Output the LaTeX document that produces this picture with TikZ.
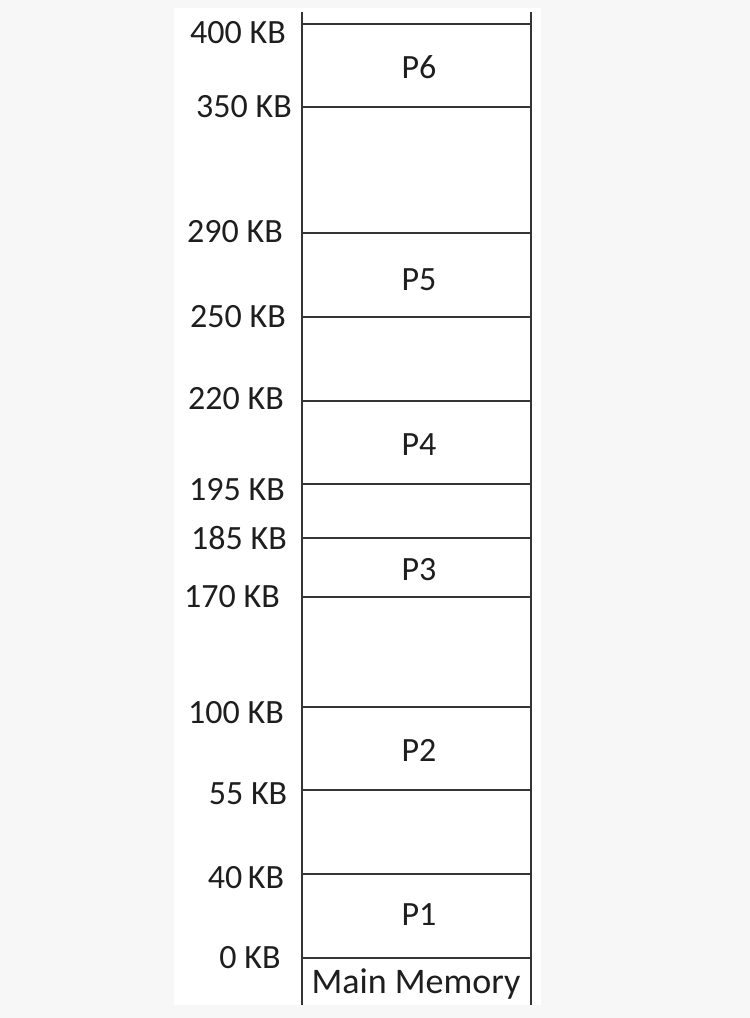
\documentclass[tikz,border=0pt]{standalone}
\usepackage{fontspec}
\setmainfont{Carlito}
\definecolor{pagegray}{HTML}{F7F7F7}
\definecolor{inkgray}{HTML}{1E1E1E}
\tikzset{
  memline/.style={draw=inkgray!90, line width=1pt},
  kblabel/.style={text=inkgray, font=\fontsize{17}{20}\selectfont, inner sep=0pt},
  procname/.style={text=inkgray, font=\fontsize{17}{20}\selectfont, inner sep=0pt},
}
\begin{document}
\begin{tikzpicture}[x=0.5pt,y=-0.5pt]
	\useasboundingbox (0,0) rectangle (750,1018);
	\fill[pagegray] (0,0) rectangle (750,1018);
	\fill[white] (174,8) rectangle (541,1005);

	% walls of the memory column
	\coordinate (TopL) at (302,12);
	\coordinate (BotL) at (302,1005);
	\coordinate (TopR) at (531,12);
	\coordinate (BotR) at (531,1005);
	\draw[memline] (TopL) -- (BotL);
	\draw[memline] (TopR) -- (BotR);

	% partition boundaries with their addresses
	\foreach \name/\y/\lx/\ly/\txt in {
		b400/24/238/33/400 KB,
		b350/107/244/107/350 KB,
		b290/233/235/232/290 KB,
		b250/317/238/317/250 KB,
		b220/401/236/399/220 KB,
		b195/484/237/490/195 KB,
		b185/538/239/538/185 KB,
		b170/597/232/597/170 KB,
		b100/707/236/713/100 KB,
		b55/790/248/794/55 KB,
		b40/874/246/878/40\,KB,
		b0/958/250/958/0 KB}
	{
		\coordinate (\name L) at (302,\y);
		\coordinate (\name R) at (531,\y);
		\draw[memline] (\name L) -- (\name R);
		\node[kblabel] (\name T) at (\lx,\ly) {\txt};
	}

	% processes
	\node[procname] (P6) at (419,67) {P6};
	\node[procname] (P5) at (419,280) {P5};
	\node[procname] (P4) at (419,445) {P4};
	\node[procname] (P3) at (419,570) {P3};
	\node[procname] (P2) at (419,750) {P2};
	\node[procname] (P1) at (419,915) {P1};
	\node[kblabel, font=\fontsize{18}{21}\selectfont] (MainMem) at (416,984) {Main Memory};
\end{tikzpicture}
\end{document}
